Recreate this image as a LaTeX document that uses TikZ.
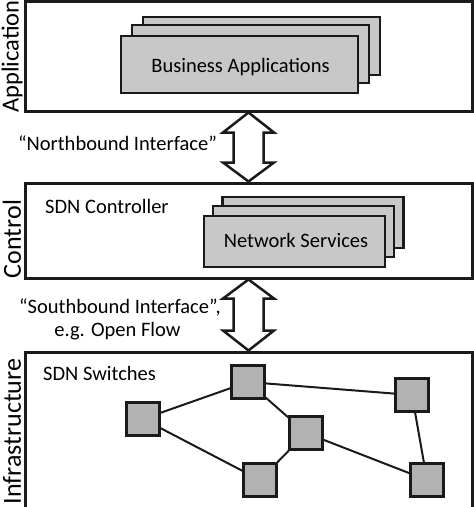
\documentclass[tikz,border=0pt]{standalone}
\usepackage{fontspec}
\setmainfont{Carlito}
\usetikzlibrary{calc}
\definecolor{bordercol}{HTML}{1A1A1A}
\definecolor{stackfill}{HTML}{C8C8C8}
\definecolor{switchfill}{HTML}{B2B2B2}
\tikzset{
  layer/.style={draw=bordercol, line width=3pt, fill=white, inner sep=0pt, minimum width=447pt},
  stackbox/.style={draw=bordercol, line width=2.5pt, fill=stackfill, inner sep=0pt},
  switchbox/.style={draw=bordercol, line width=2.5pt, fill=switchfill, inner sep=0pt, minimum width=33pt, minimum height=33pt},
  link/.style={draw=bordercol, line width=2pt},
  dblarr/.style={draw=bordercol, line width=2.5pt, fill=white, line join=miter},
  lbl/.style={font=\fontsize{20.5}{24}\selectfont, inner sep=0pt},
  sidelbl/.style={font=\fontsize{26}{30}\selectfont, inner sep=0pt, rotate=90},
}
\begin{document}
\begin{tikzpicture}[x=1pt,y=-1pt]
\useasboundingbox (0,0) rectangle (474,507);
% layers
\node[layer, minimum height=110pt] (app) at (248.5,56) {};
\node[layer, minimum height=95pt] (ctrl) at (248.5,230.5) {};
\node[layer, minimum height=160pt] (infra) at (248.5,432) {};
% side labels
\node[sidelbl, font=\fontsize{24.5}{28}\selectfont] (lapp) at (12,56.5) {Application};
\node[sidelbl] (lctrl) at (12,239) {Control};
\node[sidelbl] (linfra) at (12,431.5) {Infrastructure};
% business applications stack
\node[stackbox, minimum width=237pt, minimum height=58pt] (ba3) at (261.5,46) {};
\node[stackbox, minimum width=237pt, minimum height=58pt] (ba2) at (250.5,54) {};
\node[stackbox, minimum width=237pt, minimum height=57pt] (ba1) at (239.5,64.5) {};
\node[lbl, anchor=base] (batext) at (240.5,72) {Business Applications};
% network services stack
\node[stackbox, minimum width=181pt, minimum height=51pt] (ns3) at (313,222.5) {};
\node[stackbox, minimum width=181pt, minimum height=51pt] (ns2) at (303.5,231.5) {};
\node[stackbox, minimum width=181pt, minimum height=51pt] (ns1) at (294.5,241.5) {};
\node[lbl, anchor=base] (nstext) at (296,247) {Network Services};
\node[lbl, anchor=base west] (sdnc) at (45,213) {SDN Controller};
% interface labels
\node[lbl, anchor=base] (nb) at (117.5,150) {“Northbound Interface”};
\node[lbl, anchor=base] (sb1) at (120,313) {“Southbound Interface”,};
\node[lbl, anchor=base] (sb2) at (117.5,336) {e.g. Open Flow};
% double arrows
\path (app.south) coordinate (t1) (ctrl.north) coordinate (b1);
\path (ctrl.south) coordinate (t2) (infra.north) coordinate (b2);
\draw[dblarr] (t1) -- ++(25.5,20) -- ++(-10.5,0) -- ($(b1)+(15,-19)$) -- ++(10.5,0) -- (b1)
  -- ++(-25.5,-19) -- ++(10.5,0) -- ($(t1)+(-15,20)$) -- ++(-10.5,0) -- cycle;
\draw[dblarr] (t2) -- ++(25.5,19) -- ++(-10.5,0) -- ($(b2)+(15,-20)$) -- ++(10.5,0) -- (b2)
  -- ++(-25.5,-20) -- ++(10.5,0) -- ($(t2)+(-15,19)$) -- ++(-10.5,0) -- cycle;
% switches
\node[lbl, anchor=base west] (sdns) at (43,380) {SDN Switches};
\node[switchbox] (s1) at (248,382) {};
\node[switchbox] (s2) at (143,419) {};
\node[switchbox] (s3) at (306,433) {};
\node[switchbox] (s4) at (412,395) {};
\node[switchbox] (s5) at (260,480) {};
\node[switchbox] (s6) at (427,480) {};
\draw[link] (s2) -- (s1);
\draw[link] (s1) -- (s4);
\draw[link] (s1) -- (s3);
\draw[link] (s2) -- (s5);
\draw[link] (s5) -- (s3);
\draw[link] (s3) -- (s6);
\draw[link] (s4) -- (s6);
\end{tikzpicture}
\end{document}
